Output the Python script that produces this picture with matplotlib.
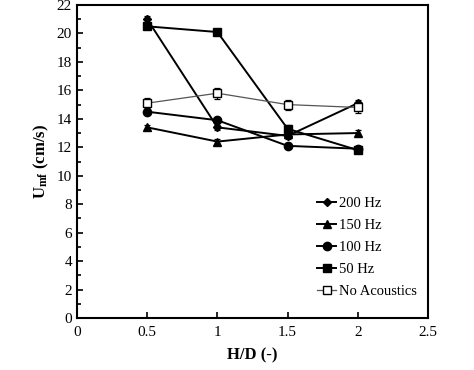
import matplotlib
matplotlib.use("Agg")
import matplotlib.pyplot as plt
from matplotlib.ticker import MultipleLocator

plt.rcParams['font.family'] = ['Liberation Serif', 'DejaVu Serif']
plt.rcParams['mathtext.fontset'] = 'custom'
plt.rcParams['mathtext.rm'] = 'Liberation Serif'
plt.rcParams['mathtext.bf'] = 'Liberation Serif:bold'

hd = [0.5, 1.0, 1.5, 2.0]
u200 = [21.0, 13.4, 12.8, 15.1]
u150 = [13.4, 12.4, 12.9, 13.0]
u100 = [14.5, 13.9, 12.1, 11.9]
u50 = [20.5, 20.1, 13.3, 11.8]
unone = [15.1, 15.8, 15.0, 14.8]
err200 = [0.25, 0.2, 0.2, 0.2]
err150 = [0.2, 0.2, 0.2, 0.2]
err100 = [0.15, 0.15, 0.15, 0.15]
err50 = [0.2, 0.15, 0.3, 0.15]
errnone = [0.35, 0.4, 0.35, 0.4]

fig = plt.figure(figsize=(4.74, 3.70), dpi=100)
ax = fig.add_axes([0.1624, 0.1405, 0.7406, 0.846])

kw = dict(color='black', lw=1.4, capsize=2, elinewidth=0.9, capthick=0.9)
c1 = ax.errorbar(hd, u200, yerr=err200, marker='D', ms=4.5, label='200 Hz', **kw)
c2 = ax.errorbar(hd, u150, yerr=err150, marker='^', ms=6, label='150 Hz', **kw)
c3 = ax.errorbar(hd, u100, yerr=err100, marker='o', ms=6, label='100 Hz', **kw)
c4 = ax.errorbar(hd, u50, yerr=err50, marker='s', ms=6, label='50 Hz', **kw)
c5 = ax.errorbar(hd, unone, yerr=errnone, marker='s', ms=6, mfc='white', mec='black',
                 color='#555555', lw=0.9, ecolor='black', capsize=2, elinewidth=0.9,
                 capthick=0.9, label='No Acoustics')

ax.set_xlim(0, 2.5)
ax.set_ylim(0, 22)
ax.yaxis.set_major_locator(MultipleLocator(2))
ax.yaxis.set_minor_locator(MultipleLocator(1))
ax.set_xticks([0, 0.5, 1, 1.5, 2, 2.5])
ax.set_xticklabels(['0', '0.5', '1', '1.5', '2', '2.5'])
ax.tick_params(which='both', direction='in', labelsize=11, width=1.2)
ax.tick_params(which='major', length=4)
ax.tick_params(which='minor', length=3)
ax.tick_params(axis='x', pad=6)
for s in ax.spines.values():
    s.set_linewidth(1.5)

ax.set_xlabel('H/D (-)', fontsize=12, fontweight='bold', labelpad=6)
ax.set_ylabel(r'$\mathbf{U_{mf}}$ (cm/s)', fontsize=12, fontweight='bold', labelpad=4)

handles = [c[0] for c in (c1, c2, c3, c4, c5)]
labels = ['200 Hz', '150 Hz', '100 Hz', '50 Hz', 'No Acoustics']
leg = ax.legend(handles, labels, loc='upper left', bbox_to_anchor=(0.685, 0.386),
                frameon=False, fontsize=10.5, handlelength=1.3, handletextpad=0.15,
                labelspacing=0.6, borderpad=0, borderaxespad=0)

fig.savefig('out.png', dpi=100)
